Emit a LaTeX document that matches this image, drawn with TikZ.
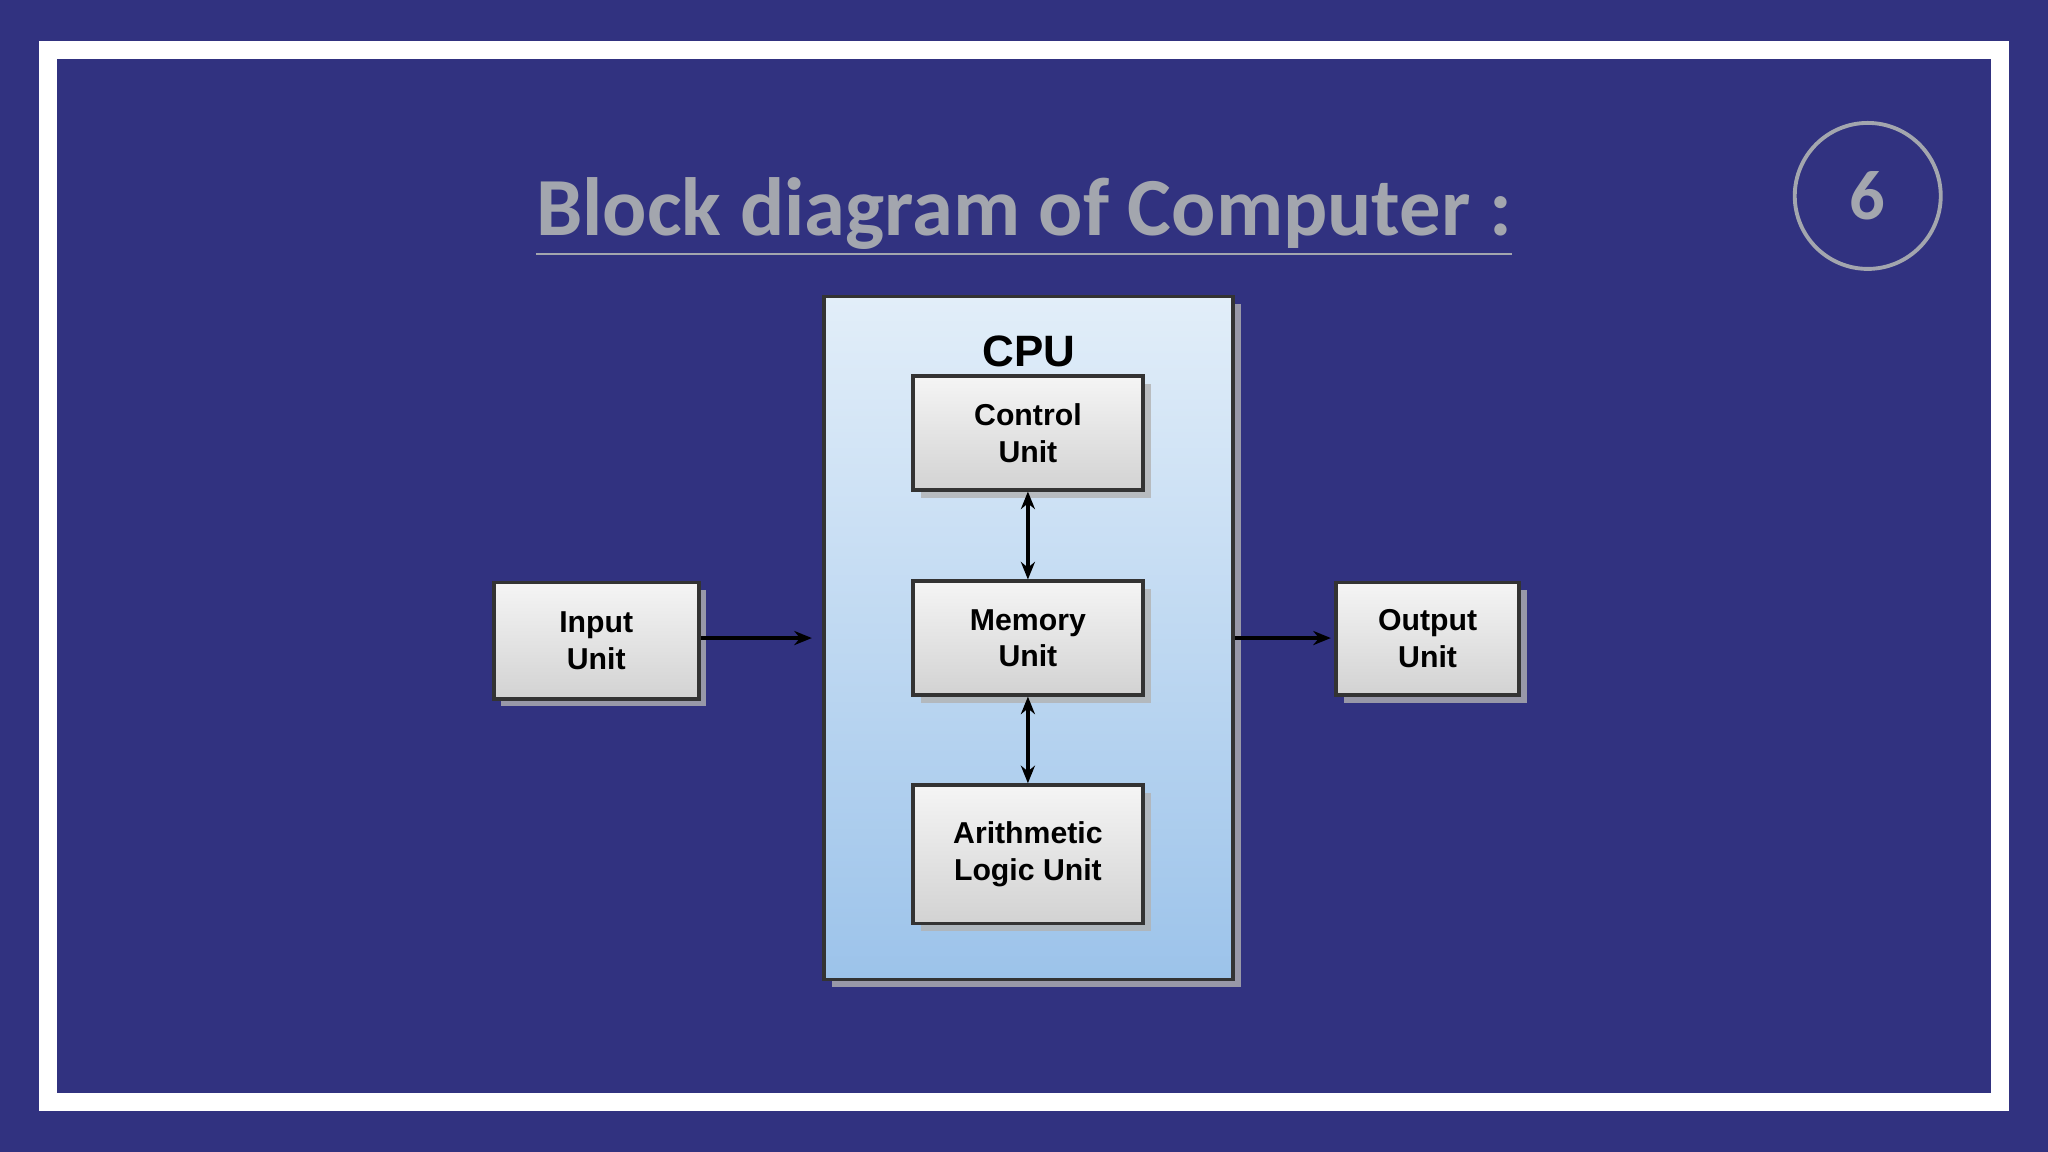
\documentclass[tikz,border=0pt]{standalone}
\usepackage{fontspec}
\setmainfont{Liberation Sans}
\newfontfamily\titlefont{Carlito}
\usetikzlibrary{positioning,shadows,arrows.meta}
\definecolor{slideblue}{HTML}{313280}
\definecolor{titlegray}{HTML}{A3A6AE}
\definecolor{cputop}{HTML}{E2EEF9}
\definecolor{cpubot}{HTML}{9CC3EA}

\begin{document}
\begin{tikzpicture}[x=0.013061cm, y=-0.013061cm,
    unit/.style={rectangle, draw=black!80, line width=1pt, top color=gray!8, bottom color=gray!35,
      align=center, font=\fontsize{8.6}{10.4}\selectfont\bfseries,
      drop shadow={shadow xshift=2.2pt, shadow yshift=-2.2pt, fill=gray!60, opacity=0.8}},
    cpu/.style={rectangle, draw=black!80, line width=1pt, top color=cputop, bottom color=cpubot,
      minimum width=4.088cm, minimum height=6.831cm,
      drop shadow={shadow xshift=2.2pt, shadow yshift=-2.2pt, fill=gray!60, opacity=0.8}},
    link/.style={line width=0.9pt, -{Stealth[length=5pt, width=4pt]}},
    both/.style={line width=0.9pt, {Stealth[length=5pt, width=4pt]}-{Stealth[length=5pt, width=4pt]}}
  ]
    % slide background and frame
    \fill[slideblue] (0,0) rectangle (1568,882);
    \draw[white, line width=0.183cm] (37,38.5) rectangle (1531,843.5);

    % title and page number
    \node[font=\titlefont\fontsize{23.5}{28}\selectfont\bfseries, text=titlegray, anchor=base]
      (title) at (784,180) {\underline{Block diagram of Computer :}};
    \node[circle, draw=titlegray, line width=1.1pt, minimum size=1.46cm, text=titlegray,
      font=\titlefont\fontsize{20}{24}\selectfont\bfseries] (page) at (1430,150) {6};

    % CPU and its units
    \node[cpu] (cpu) at (787.5,488.5) {};
    \node[font=\fontsize{12.5}{14}\selectfont\bfseries] (cpulabel) at (788,269) {CPU};
    \node[unit, minimum width=2.299cm, minimum height=1.136cm] (control) at (787,331.5) {Control\\Unit};
    \node[unit, minimum width=2.299cm, minimum height=1.136cm] (memory) at (787,488.5) {Memory\\Unit};
    \node[unit, minimum width=2.299cm, minimum height=1.384cm] (alu) at (787,654) {Arithmetic\\Logic Unit};

    % input and output
    \node[unit, minimum width=2.05cm, minimum height=1.162cm] (input) at (456.5,490.5) {Input\\Unit};
    \node[unit, minimum width=1.829cm, minimum height=1.123cm] (output) at (1093,489) {Output\\Unit};

    % connectors
    \draw[both] (control.south) -- (memory.north);
    \draw[both] (memory.south) -- (alu.north);
    \draw[link, shorten >=3pt] (input.east |- cpu.west) -- (cpu.west);
    \draw[link, shorten >=1pt] (cpu.east) -- (output.west |- cpu.east);
\end{tikzpicture}
\end{document}
